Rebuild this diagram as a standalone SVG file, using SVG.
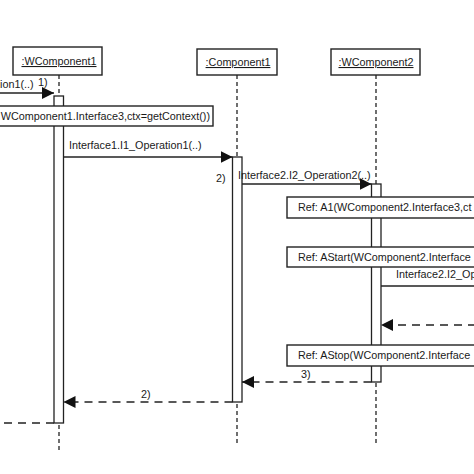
<svg xmlns="http://www.w3.org/2000/svg" width="474" height="474" viewBox="0 0 474 474">
<style>
text{font-family:"Liberation Sans",Arial,sans-serif;fill:#1a1a1a;}
.lbl{font-size:10.8px;}
.head{font-size:10.8px;text-decoration:underline;}
.box{fill:#fff;stroke:#222;stroke-width:1.4;}
.life{stroke:#222;stroke-width:1.3;stroke-dasharray:4 3;fill:none;}
.bar{fill:#fff;stroke:#222;stroke-width:1.3;}
.msg{stroke:#222;stroke-width:1.3;fill:none;}
.ret{stroke:#222;stroke-width:1.3;fill:none;stroke-dasharray:8 6;}
</style>
<defs>
<marker id="ah" markerWidth="12" markerHeight="12" refX="12" refY="6" orient="auto" markerUnits="userSpaceOnUse">
<path d="M0,0 L12,6 L0,12 Z" fill="#111"/>
</marker>
</defs>
<rect width="474" height="474" fill="#fff"/>
<g id="WComponent1">
<line class="life" x1="59" y1="75" x2="59" y2="450"/>
<rect class="box" x="13" y="47" width="89" height="28"/>
<text class="head" x="59" y="65" text-anchor="middle">:WComponent1</text>
<rect class="bar" x="54" y="96" width="9.5" height="327"/>
</g>
<g id="Component1">
<line class="life" x1="237" y1="75" x2="237" y2="445"/>
<rect class="box" x="197" y="49" width="80" height="26"/>
<text class="head" x="238" y="66" text-anchor="middle">:Component1</text>
<rect class="bar" x="232.5" y="157" width="9.5" height="245"/>
</g>
<g id="WComponent2">
<line class="life" x1="376" y1="75" x2="376" y2="445"/>
<rect class="box" x="331" y="49" width="89" height="26"/>
<text class="head" x="376" y="66" text-anchor="middle">:WComponent2</text>
<rect class="bar" x="371.5" y="184" width="9.5" height="198"/>
</g>
<g id="connectors">
<line class="msg" x1="-2" y1="93" x2="54" y2="93" marker-end="url(#ah)"/>
<line class="msg" x1="63.5" y1="157" x2="232.5" y2="157" marker-end="url(#ah)"/>
<line class="msg" x1="242" y1="184" x2="371.5" y2="184" marker-end="url(#ah)"/>
<line class="msg" x1="381" y1="286" x2="476" y2="286"/>
<line class="ret" x1="476" y1="325" x2="381" y2="325" marker-end="url(#ah)"/>
<line class="ret" x1="371.5" y1="382" x2="242" y2="382" marker-end="url(#ah)"/>
<line class="ret" x1="232.5" y1="402" x2="63.5" y2="402" marker-end="url(#ah)"/>
<line class="ret" x1="54" y1="423" x2="-2" y2="423"/>
</g>
<g id="labels">
<text class="lbl" x="0" y="88">ion1(..)</text>
<text class="lbl" x="38" y="86" font-size="10">1)</text>
<text class="lbl" x="69" y="149">Interface1.I1_Operation1(..)</text>
<text class="lbl" x="216" y="182">2)</text>
<text class="lbl" x="238" y="179">Interface2.I2_Operation2(..)</text>
<text class="lbl" x="396" y="278">Interface2.I2_Op</text>
<text class="lbl" x="301" y="378">3)</text>
<text class="lbl" x="141" y="398">2)</text>
</g>
<g id="ref1">
<rect class="box" x="-2" y="106" width="215" height="20"/>
<text class="lbl" x="210" y="120" text-anchor="end">WComponent1.Interface3,ctx=getContext())</text>
</g>
<g id="ref2">
<rect class="box" x="287" y="197" width="200" height="21"/>
<text class="lbl" x="298" y="211">Ref: A1(WComponent2.Interface3,ct</text>
</g>
<g id="ref3">
<rect class="box" x="287" y="247" width="200" height="20"/>
<text class="lbl" x="298" y="261">Ref: AStart(WComponent2.Interface</text>
</g>
<g id="ref4">
<rect class="box" x="287" y="345" width="200" height="21"/>
<text class="lbl" x="298" y="359">Ref: AStop(WComponent2.Interface</text>
</g>
</svg>
